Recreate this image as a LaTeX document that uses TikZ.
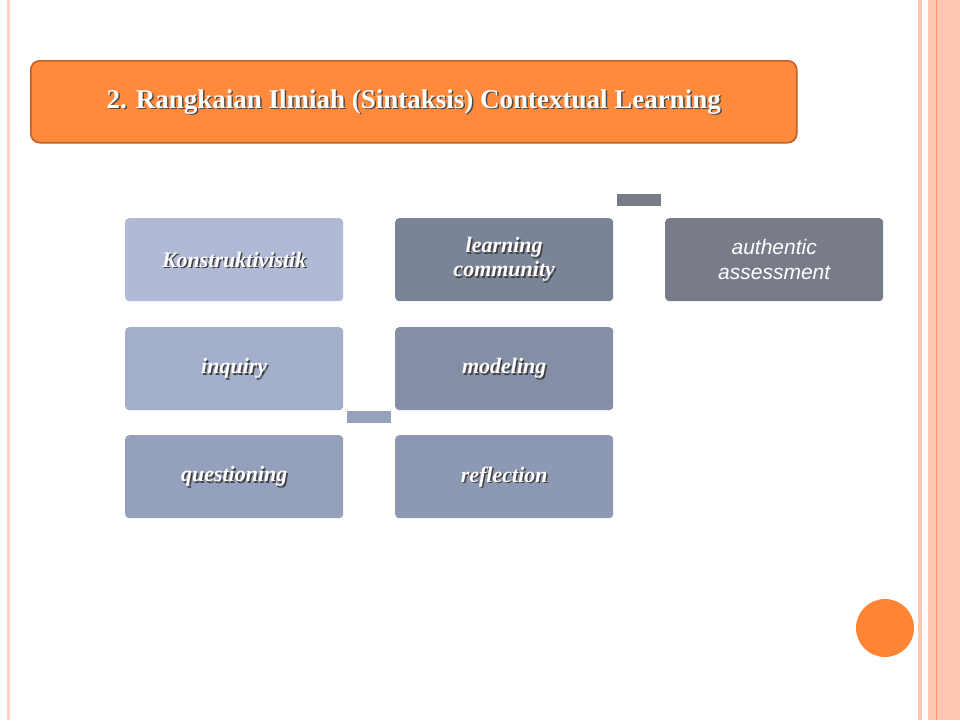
\documentclass[tikz,border=0pt]{standalone}
\usepackage{fontspec}
\setmainfont{Liberation Serif}
\setsansfont{Liberation Sans}
\definecolor{circ}{RGB}{255,132,52}
\begin{document}
\begin{tikzpicture}[x=1pt,y=-1pt,
  bx/.style={rounded corners=4pt,minimum width=218pt,minimum height=83pt,inner sep=0pt,anchor=north west},
  lbl/.style={font=\fontsize{22}{24}\selectfont\bfseries\itshape,text=white,align=center},
  cn/.style={draw=none}]
\useasboundingbox (0,0) rectangle (960,720);
\fill[white] (0,0) rectangle (960,720);
% borders
\fill[orange!20!pink!60] (7,0) rectangle (10,720);
\fill[orange!25!pink!70] (918,0) rectangle (922,720);
\fill[orange!25!pink!70] (928,0) rectangle (960,720);
\draw[orange!60!red!60,line width=0.8] (936,0) -- (936,720);
% title
\node[draw={rgb,255:red,190;green,95;blue,35},line width=1.5,fill={rgb,255:red,255;green,138;blue,60},rounded corners=9pt,minimum width=766pt,minimum height=82pt,anchor=north west] (title) at (30,60) {};
\node[text=black!70,font=\fontsize{27}{30}\selectfont\bfseries] at ([xshift=1.5,yshift=-1.5]title.center) {2. Rangkaian Ilmiah (Sintaksis) Contextual Learning};
\node[text=white,font=\fontsize{27}{30}\selectfont\bfseries] (tt) at (title.center) {2. Rangkaian Ilmiah (Sintaksis) Contextual Learning};
% boxes
\node[bx,fill={rgb,255:red,176;green,186;blue,214}] (k) at (125,218) {};
\node[bx,fill={rgb,255:red,162;green,174;blue,202}] (i) at (125,327) {};
\node[bx,fill={rgb,255:red,149;green,160;blue,188}] (q) at (125,435) {};
\node[bx,fill={rgb,255:red,141;green,153;blue,179}] (r) at (395,435) {};
\node[bx,fill={rgb,255:red,132;green,143;blue,165}] (m) at (395,327) {};
\node[bx,fill={rgb,255:red,122;green,132;blue,151}] (l) at (395,218) {};
\node[bx,fill={rgb,255:red,119;green,124;blue,136}] (a) at (665,218) {};
% connectors
\fill[fill={rgb,255:red,176;green,186;blue,214}] ([xshift=-6,yshift=4]k.south) rectangle ([xshift=6,yshift=22]k.south);
\fill[fill={rgb,255:red,162;green,174;blue,202}] ([xshift=-6,yshift=4]i.south) rectangle ([xshift=6,yshift=22]i.south);
\fill[fill={rgb,255:red,149;green,160;blue,188}] ([xshift=4,yshift=12]q.north east) rectangle ([xshift=48,yshift=24]q.north east);
\fill[fill={rgb,255:red,132;green,143;blue,165}] ([xshift=-6,yshift=4]m.south) rectangle ([xshift=6,yshift=22]m.south);
\fill[fill={rgb,255:red,122;green,132;blue,151}] ([xshift=-6,yshift=4]l.south) rectangle ([xshift=6,yshift=22]l.south);
\fill[fill={rgb,255:red,119;green,124;blue,136}] ([xshift=4,yshift=12]l.north east) rectangle ([xshift=48,yshift=24]l.north east);
% labels
\foreach \n/\t in {k/Konstruktivistik,i/inquiry,q/questioning,r/reflection,m/modeling,l/{learning\\community}}{
  \node[lbl,text=black!75] at ([xshift=1.5,yshift=-1.5]\n.center) {\t};
  \node[lbl] at (\n.center) {\t};
}
\node[align=center,text=white,font=\sffamily\itshape\fontsize{21}{25}\selectfont] at (a.center) {authentic\\assessment};
\fill[circ] (885,628) circle (29);
\end{tikzpicture}
\end{document}
